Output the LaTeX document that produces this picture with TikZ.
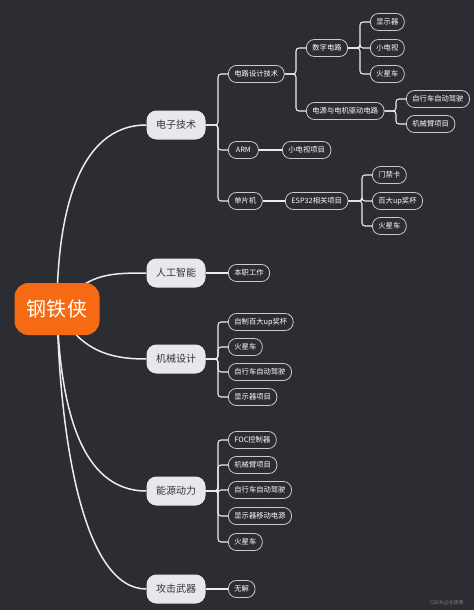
\documentclass[tikz,border=0pt]{standalone}
\usepackage{fontspec}
\setmainfont{Noto Sans CJK SC}
\usetikzlibrary{positioning, backgrounds}
\definecolor{bgdark}{RGB}{43,45,50}
\definecolor{ironorange}{RGB}{246,106,20}
\definecolor{topicgray}{RGB}{230,232,236}
\definecolor{leafline}{RGB}{200,202,206}
\definecolor{linkwhite}{RGB}{236,236,236}

\begin{document}
\begin{tikzpicture}[x=1pt,y=-1pt,
    root/.style={fill=ironorange,text=white,rounded corners=14pt,
                 minimum width=85pt,minimum height=52pt,
                 font=\fontsize{20}{24}\selectfont},
    topic/.style={fill=topicgray,text=black!80,rounded corners=10pt,
                  minimum width=59pt,minimum height=29pt,
                  font=\fontsize{10}{12}\selectfont},
    leaf/.style={draw=leafline,fill=bgdark,text=white,rounded corners=8pt,
                 minimum height=17pt,inner xsep=6pt,inner ysep=0pt,
                 line width=0.8pt,anchor=west,
                 font=\fontsize{7.3}{8}\selectfont},
    link/.style={draw=linkwhite,line width=1.1pt,rounded corners=3pt},
    curve/.style={draw=linkwhite,line width=1.5pt}]
  \useasboundingbox (0,0) rectangle (474,610);

  % root and main topics
  \node[root] (gtx) at (57,309) {钢铁侠};
  \node[topic] (dzjs) at (176,125) {电子技术};
  \node[topic] (rgzn) at (176,273) {人工智能};
  \node[topic] (jxsj) at (176,359) {机械设计};
  \node[topic] (nydl) at (176,491) {能源动力};
  \node[topic] (gjwq) at (176,589) {攻击武器};

  % 电子技术
  \node[leaf] (dlsj) at (228,74) {电路设计技术};
  \node[leaf,minimum width=30pt] (arm) at (228,150) {ARM};
  \node[leaf] (dpj) at (228,201) {单片机};
  \node[leaf] (szdl) at (306,48) {数字电路};
  \node[leaf] (dydj) at (306,111) {电源与电机驱动电路};
  \node[leaf] (xsq) at (370,22) {显示器};
  \node[leaf] (xds) at (370,48) {小电视};
  \node[leaf] (hxc) at (370,74) {火星车};
  \node[leaf] (zxca) at (406,99) {自行车自动驾驶};
  \node[leaf] (jxba) at (406,124) {机械臂项目};
  \node[leaf] (xdsx) at (282,150) {小电视项目};
  \node[leaf] (esp) at (285,201) {ESP32相关项目};
  \node[leaf] (mjk) at (372,175) {门禁卡};
  \node[leaf] (bdup) at (372,201) {百大up奖杯};
  \node[leaf] (hxcb) at (372,226) {火星车};

  % 人工智能
  \node[leaf] (bzgz) at (228,273) {本职工作};

  % 机械设计
  \node[leaf] (zzbd) at (228,322) {自制百大up奖杯};
  \node[leaf] (hxcc) at (228,347) {火星车};
  \node[leaf] (zxcb) at (228,372) {自行车自动驾驶};
  \node[leaf] (xsqx) at (228,397) {显示器项目};

  % 能源动力
  \node[leaf] (foc) at (228,440) {FOC控制器};
  \node[leaf] (jxbb) at (228,465) {机械臂项目};
  \node[leaf] (zxcc) at (228,490) {自行车自动驾驶};
  \node[leaf] (xsdy) at (228,516) {显示器移动电源};
  \node[leaf] (hxcd) at (228,542) {火星车};

  % 攻击武器
  \node[leaf] (wj) at (228,589) {无解};

  \node[font=\fontsize{5}{6}\selectfont,text=gray] (wm) at (447,603) {CSDN @北极象};

  % branch links
  \foreach \p/\c in {dzjs/dlsj,dzjs/arm,dzjs/dpj,dlsj/szdl,dlsj/dydj,
      szdl/xsq,szdl/xds,szdl/hxc,dydj/zxca,dydj/jxba,
      esp/mjk,esp/bdup,esp/hxcb,
      jxsj/zzbd,jxsj/hxcc,jxsj/zxcb,jxsj/xsqx,
      nydl/foc,nydl/jxbb,nydl/zxcc,nydl/xsdy,nydl/hxcd}
    \draw[link] (\p.east) -- ([xshift=-10pt]\c.west |- \p.east) |- (\c.west);
  % single children
  \foreach \p/\c in {arm/xdsx,dpj/esp,rgzn/bzgz,gjwq/wj}
    \draw[link] (\p.east) -- (\c.west);

  \begin{scope}[on background layer]
    \fill[bgdark] (0,0) rectangle (474,610);
    \draw[curve] (gtx.center) .. controls +(0,-90) and +(-70,0) .. (dzjs.west);
    \draw[curve] (gtx.center) .. controls +(30,-35) and +(-40,0) .. (rgzn.west);
    \draw[curve] (gtx.center) .. controls +(23,40) and +(-40,0) .. (jxsj.west);
    \draw[curve] (gtx.center) .. controls +(3,95) and +(-67,0) .. (nydl.west);
    \draw[curve] (gtx.center) .. controls +(3,135) and +(-62,0) .. (gjwq.west);
  \end{scope}
\end{tikzpicture}
\end{document}
